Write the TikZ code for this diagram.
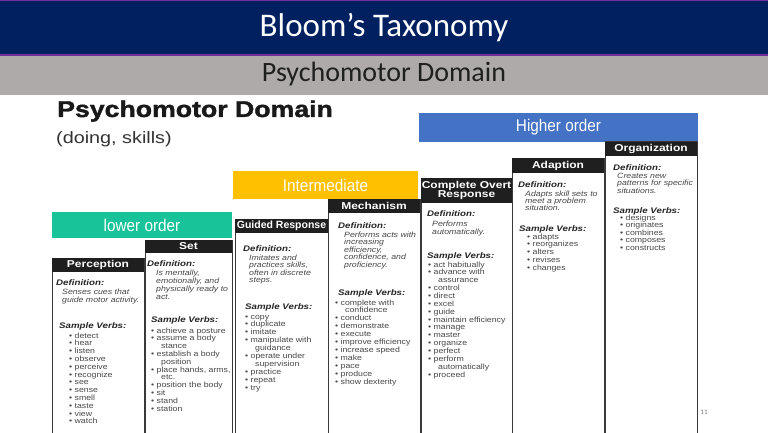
\documentclass[tikz,border=0pt]{standalone}
\usepackage{fontspec}
\setmainfont{Liberation Sans}
\newfontfamily\slidefont{Carlito}
\newfontfamily\chartsf[FakeStretch=1.2]{Liberation Sans}
\newfontfamily\bodysf[FakeStretch=1.15]{Liberation Sans}
\newfontfamily\chartsfn{Liberation Sans}
\newfontfamily\blacksf[FakeStretch=1.17,FakeBold=1.6]{Liberation Sans Bold}
\newfontfamily\bandfont[FakeStretch=0.9]{Liberation Sans}

\definecolor{slidenavy}{HTML}{002060}
\definecolor{slidepurple}{HTML}{7030A0}
\definecolor{slidegray}{HTML}{AEAAAA}
\definecolor{lowgreen}{HTML}{19C39A}
\definecolor{midyellow}{HTML}{FFC000}
\definecolor{highblue}{HTML}{4472C4}
\definecolor{boxgray}{HTML}{3A3A3A}
\definecolor{verbgray}{HTML}{474747}

\tikzset{
  boxline/.style={draw=boxgray, line width=1pt, fill=white},
  headbar/.style={fill=black!88},
  headtext/.style={text=white, align=center, inner sep=0pt,
    font=\chartsf\bfseries\fontsize{10}{10.5}\selectfont},
  bandbox/.style={inner sep=0pt, text=white,
    font=\bandfont\fontsize{17}{17}\selectfont},
  defhead/.style={anchor=base west, inner sep=0pt, text=black!85,
    font=\chartsf\bfseries\itshape\fontsize{8.1}{8}\selectfont},
  deftext/.style={anchor=base west, inner sep=0pt, text=verbgray,
    font=\bodysf\itshape\fontsize{7.6}{7.8}\selectfont},
  verbtext/.style={anchor=base west, inner sep=0pt, text=verbgray,
    font=\bodysf\fontsize{7.6}{7.8}\selectfont}
}

% bullet and continuation of a verb
\newcommand{\vb}{\textbullet\ }
\newcommand{\vc}{\hspace*{10pt}}

% box of one level: name, left, right, top, header bottom, title
\newcommand{\stagebox}[6]{%
  \draw[boxline] (#2,#4) rectangle (#3,445);
  \fill[headbar] (#2,#4) rectangle (#3,#5);
  \node[headtext] (#1) at ({(#2+#3)/2},{(#4+#5)/2}) {#6};
}

% column of lines: name, x, first baseline, step, style, lines
\newcommand{\linecol}[6]{%
  \foreach \t [count=\i] in {#6}
    \node[#5] (#1-\i) at (#2,{#3+(\i-1)*#4}) {\t};
}

\begin{document}
\begin{tikzpicture}[x=1pt,y=-1pt]
  \useasboundingbox (0,0) rectangle (768,433);
  \clip (0,0) rectangle (768,433);

  % slide title bars
  \fill[white] (0,0) rectangle (768,433);
  \draw[draw=slidepurple, fill=slidenavy, line width=1.2pt]
    (-1,0.8) rectangle (769,55);
  \fill[slidegray] (0,55.6) rectangle (768,95);
  \node[text=white, font=\slidefont\fontsize{33}{36}\selectfont]
    (title) at (384,28) {Bloom’s Taxonomy};
  \node[text=black!88, font=\slidefont\fontsize{28}{30}\selectfont]
    (subtitle) at (384,74) {Psychomotor Domain};

  % chart heading
  \node[anchor=base west, inner sep=0pt, text=black!90,
    font=\blacksf\fontsize{22.8}{24}\selectfont]
    (heading) at (57,117) {Psychomotor Domain};
  \node[anchor=base west, inner sep=0pt, text=black!80,
    font=\chartsf\fontsize{16.5}{18}\selectfont]
    (doing) at (56,143.5) {(doing, skills)};

  % order bands
  \fill[lowgreen] (52,212) rectangle (232,238);
  \node[bandbox] (lower) at (142,225) {lower order};
  \fill[midyellow] (233,171) rectangle (418,199);
  \node[bandbox] (middle) at (325.5,185) {Intermediate};
  \fill[highblue] (419,113) rectangle (698,142);
  \node[bandbox] (higher) at (558.5,127.5) {Higher order};

  % Perception
  \stagebox{perc}{52}{144}{258}{272}{Perception}
  \node[defhead] (perc-dh) at (56,285) {Definition:};
  \linecol{perc-d}{62}{294}{8}{deftext}{Senses cues that, guide motor activity.}
  \node[defhead] (perc-vh) at (59,328) {Sample Verbs:};
  \linecol{perc-v}{69}{338}{7.8}{verbtext}{\vb detect, \vb hear, \vb listen,
    \vb observe, \vb perceive, \vb recognize, \vb see, \vb sense, \vb smell,
    \vb taste, \vb view, \vb watch}

  % Set
  \stagebox{set}{145}{232}{240}{253}{Set}
  \node[defhead] (set-dh) at (147,266) {Definition:};
  \linecol{set-d}{156}{275}{8}{deftext}{{Is mentally,}, {emotionally, and},
    physically ready to, act.}
  \node[defhead] (set-vh) at (151,322) {Sample Verbs:};
  \linecol{set-v}{151}{333}{7.8}{verbtext}{\vb achieve a posture,
    \vb assume a body, \vc stance, \vb establish a body, \vc position,
    {\vb place hands, arms,}, \vc etc., \vb position the body, \vb sit,
    \vb stand, \vb station}

  % Guided Response
  \stagebox{guided}{235}{328}{219}{233}{\chartsfn\fontsize{10.5}{11}\selectfont Guided Response}
  \node[defhead] (guided-dh) at (243,251) {Definition:};
  \linecol{guided-d}{249}{260}{7.6}{deftext}{Imitates and, {practices skills,},
    often in discrete, steps.}
  \node[defhead] (guided-vh) at (245,309) {Sample Verbs:};
  \linecol{guided-v}{245}{319}{7.9}{verbtext}{\vb copy, \vb duplicate,
    \vb imitate, \vb manipulate with, \vc guidance, \vb operate under,
    \vc supervision, \vb practice, \vb repeat, \vb try}

  % Mechanism
  \stagebox{mech}{328}{420}{199}{213}{Mechanism}
  \node[defhead] (mech-dh) at (338,228) {Definition:};
  \linecol{mech-d}{344}{237}{7.6}{deftext}{Performs acts with, increasing,
    {efficiency,}, {confidence, and}, proficiency.}
  \node[defhead] (mech-vh) at (338,295) {Sample Verbs:};
  \linecol{mech-v}{335}{305}{7.9}{verbtext}{\vb complete with, \vc confidence,
    \vb conduct, \vb demonstrate, \vb execute, \vb improve efficiency,
    \vb increase speed, \vb make, \vb pace, \vb produce, \vb show dexterity}

  % Complete Overt Response
  \stagebox{overt}{421}{512}{178}{203}{Complete Overt\\[-1pt]Response}
  \node[defhead] (overt-dh) at (427,216) {Definition:};
  \linecol{overt-d}{432}{226}{8}{deftext}{Performs, automatically.}
  \node[defhead] (overt-vh) at (427,258) {Sample Verbs:};
  \linecol{overt-v}{428}{267}{7.86}{verbtext}{\vb act habitually,
    \vb advance with, \vc assurance, \vb control, \vb direct, \vb excel,
    \vb guide, \vb maintain efficiency, \vb manage, \vb master,
    \vb organize, \vb perfect, \vb perform, \vc automatically, \vb proceed}

  % Adaption
  \stagebox{adapt}{512}{604}{158}{173}{Adaption}
  \node[defhead] (adapt-dh) at (518,187) {Definition:};
  \linecol{adapt-d}{525}{196}{7.4}{deftext}{Adapts skill sets to,
    meet a problem, situation.}
  \node[defhead] (adapt-vh) at (519,231) {Sample Verbs:};
  \linecol{adapt-v}{527}{239}{7.8}{verbtext}{\vb adapts, \vb reorganizes,
    \vb alters, \vb revises, \vb changes}

  % Organization
  \stagebox{organ}{605}{697}{142}{156}{Organization}
  \node[defhead] (organ-dh) at (613,170) {Definition:};
  \linecol{organ-d}{617}{178}{7.6}{deftext}{Creates new,
    patterns for specific, situations.}
  \node[defhead] (organ-vh) at (613,213) {Sample Verbs:};
  \linecol{organ-v}{620}{220}{7.6}{verbtext}{\vb designs, \vb originates,
    \vb combines, \vb composes, \vb constructs}

  % slide number
  \node[text=black!55, font=\slidefont\fontsize{7}{8}\selectfont]
    (pageno) at (704,412) {11};
\end{tikzpicture}
\end{document}
